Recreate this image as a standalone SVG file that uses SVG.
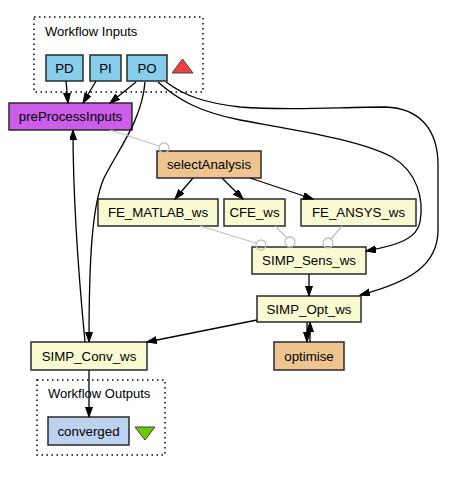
<svg xmlns="http://www.w3.org/2000/svg" width="450" height="484" viewBox="0 0 450 484">
<defs>
<marker id="arr" markerUnits="userSpaceOnUse" markerWidth="11" markerHeight="8" refX="10" refY="3.5" orient="auto" viewBox="0 0 11 8">
<path d="M0,0 L10,3.5 L0,7 z" fill="#000" stroke="#000" stroke-width="1"/>
</marker>
</defs>
<style>
text{font-family:"Liberation Sans",Arial,sans-serif;font-size:13.3px;fill:#000;text-anchor:middle}
.title{text-anchor:start;font-size:13px}
.box{stroke:#2a2a2a;stroke-width:1.5}
.in{fill:#87ceeb}
.ws{fill:#fafad2}
.bs{fill:#eec591}
.pp{fill:#cc5de8}
.out{fill:#bcd2ee}
.cluster{fill:none;stroke:#000;stroke-width:1.5;stroke-dasharray:1.5 3.5}
.e{fill:none;stroke:#000;stroke-width:1.3;marker-end:url(#arr)}
.c{fill:none;stroke:#c0c0c0;stroke-width:1.3}
</style>
<rect width="450" height="484" fill="#fff"/>
<g id="workflow-inputs">
<rect class="cluster" x="34" y="17" width="169" height="75"/>
<text class="title" x="45" y="36">Workflow Inputs</text>
<polygon points="182.5,59 193,73 172,73" fill="#f04040" stroke="#444" stroke-width="1"/>
</g>
<g id="workflow-outputs">
<rect class="cluster" x="37" y="380" width="128" height="75"/>
<text class="title" x="48" y="398">Workflow Outputs</text>
<polygon points="135,427 155,427 145,440" fill="#66cc00" stroke="#444" stroke-width="1"/>
</g>
<g id="PD"><rect class="box in" x="46" y="55" width="37" height="26"/><text x="64.5" y="73">PD</text></g>
<g id="PI"><rect class="box in" x="90" y="55" width="31" height="26"/><text x="105.5" y="73">PI</text></g>
<g id="PO"><rect class="box in" x="127" y="55" width="40" height="26"/><text x="147" y="73">PO</text></g>
<g id="preProcessInputs"><rect class="box pp" x="9" y="103" width="123" height="27"/><text x="70.5" y="121">preProcessInputs</text></g>
<g id="selectAnalysis"><rect class="box bs" x="157" y="151" width="104" height="27"/><text x="209" y="169">selectAnalysis</text></g>
<g id="FE_MATLAB_ws"><rect class="box ws" x="98" y="199" width="120" height="27"/><text x="158" y="217">FE_MATLAB_ws</text></g>
<g id="CFE_ws"><rect class="box ws" x="224" y="199" width="61" height="27"/><text x="254.5" y="217">CFE_ws</text></g>
<g id="FE_ANSYS_ws"><rect class="box ws" x="301" y="199" width="115" height="27"/><text x="358.5" y="217">FE_ANSYS_ws</text></g>
<g id="SIMP_Sens_ws"><rect class="box ws" x="252" y="247" width="114" height="27"/><text x="309" y="265">SIMP_Sens_ws</text></g>
<g id="SIMP_Opt_ws"><rect class="box ws" x="257" y="296" width="104" height="26"/><text x="309" y="313.5">SIMP_Opt_ws</text></g>
<g id="optimise"><rect class="box bs" x="274" y="342" width="70" height="28"/><text x="309" y="360.5">optimise</text></g>
<g id="SIMP_Conv_ws"><rect class="box ws" x="31" y="342" width="116" height="28"/><text x="89" y="360.5">SIMP_Conv_ws</text></g>
<g id="converged"><rect class="box out" x="48" y="417" width="81" height="28"/><text x="88.5" y="435.5">converged</text></g>
<g id="connectors">
<path class="e" d="M66,81 L68,103"/>
<path class="e" d="M96,81 L83,103"/>
<path class="e" d="M136,82 L110,103"/>
<path class="e" d="M145,82 C142,120 118,150 104,178 C92,205 89,260 89,342"/>
<path class="e" d="M85,342 C80,290 73,200 73,130"/>
<path class="e" d="M158,82 C178,100 200,112 240,120 C300,131 360,140 392,157 C418,172 424,200 420,222 C417,238 400,245 366,251"/>
<path class="e" d="M166,82 C185,96 205,103 240,107 C290,111 340,107 385,107 C420,108 438,130 438,165 L438,230 C438,265 410,282 360,295"/>
<path class="e" d="M193,178 L175,199"/>
<path class="e" d="M222,178 L243,199"/>
<path class="e" d="M250,178 L313,199"/>
<path class="e" d="M309,274 L309,296"/>
<path class="e" d="M307,322 L307,342"/>
<path class="e" d="M310,342 L310,322"/>
<path class="e" d="M257,320 L147,342"/>
<path class="e" d="M89,370 L89,417"/>
<path class="c" d="M110,130 L159,146"/>
<circle class="c" cx="164" cy="148" r="5"/>
<path class="c" d="M200,226 L256,243"/>
<circle class="c" cx="261" cy="245" r="5"/>
<path class="c" d="M275,226 L287,238"/>
<circle class="c" cx="290" cy="242" r="5"/>
<path class="c" d="M342,226 L331,239"/>
<circle class="c" cx="328" cy="243" r="5"/>
</g>
</svg>
